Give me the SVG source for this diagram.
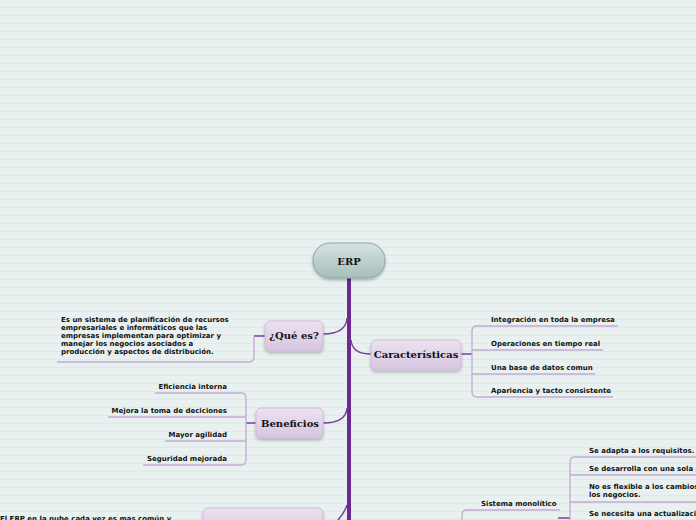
<svg xmlns="http://www.w3.org/2000/svg" width="696" height="520" viewBox="0 0 696 520">
<defs>
<pattern id="bg" width="8" height="8" patternUnits="userSpaceOnUse"><rect width="8" height="8" fill="#e9f1f0"/><line x1="0" y1="7.5" x2="8" y2="7.5" stroke="#e0e9e8" stroke-width="1"/></pattern>
<linearGradient id="g1" x1="0" y1="0" x2="0" y2="1"><stop offset="0" stop-color="#d4e3e1"/><stop offset="1" stop-color="#a8bebb"/></linearGradient>
<linearGradient id="g2" x1="0" y1="0" x2="0" y2="1"><stop offset="0" stop-color="#ece2f1"/><stop offset="1" stop-color="#d6c5e0"/></linearGradient>
<filter id="sh" x="-20%" y="-20%" width="140%" height="160%"><feDropShadow dx="0" dy="2" stdDeviation="1.5" flood-color="#000" flood-opacity="0.25"/></filter>
</defs>
<style>
.node{fill:url(#g2);stroke:#cdbbd9;stroke-width:1;filter:url(#sh)}
.t{font-family:"DejaVu Serif",serif;font-weight:bold;font-size:10px;fill:#111;text-anchor:middle}
.s{font-family:"DejaVu Sans",sans-serif;font-weight:bold;font-size:7px;fill:#111}
.r{text-anchor:end}
.leaf{fill:none;stroke:#c3a9d6;stroke-width:1.3}
.main{fill:none;stroke:#6a2a90;stroke-width:4}
.br{fill:none;stroke:#7b3ea0;stroke-width:1.5}
</style>
<rect width="696" height="520" fill="url(#bg)"/>
<g id="connectors">
<path class="main" d="M349 278 V520"/>
<path class="br" d="M347 318 Q346 334 323 334"/>
<path class="br" d="M351 340 Q352 354 371 354"/>
<path class="br" d="M347 408 Q346 423 323 423"/>
<path class="br" d="M347 505 Q345 512 338 520"/>
<path class="br" d="M461 354 H472"/>
<path class="leaf" d="M487 326 H618 M487 350 H603 M487 374 H595 M487 397 H613"/>
<path class="leaf" d="M487 326 H477 Q472 326 472 331 V392 Q472 397 477 397 H487 M472 350 H487 M472 374 H487"/>
<path class="br" d="M256 423 H246"/>
<path class="leaf" d="M155 393 H241 Q246 393 246 398 V460 Q246 465 241 465 H143 M108 417 H246 M165 441 H246"/>
<path class="br" d="M265 336 H254"/>
<path class="leaf" d="M57 362 H249 Q254 362 254 357 V336"/>
<path class="leaf" d="M476 510 H467 Q462 510 462 515 V520 M476 510 H560"/>
<path class="br" d="M558 518 H570"/>
<path class="leaf" d="M696 457 H575 Q570 457 570 462 V520 M570 475 H696 M570 502 H696"/>
</g>
<g id="erp"><rect x="313" y="243" width="72" height="35" rx="17" fill="url(#g1)" stroke="#86a8a5" filter="url(#sh)"/><text class="t" x="349" y="265" font-size="12">ERP</text></g>
<g id="que"><rect class="node" x="265" y="321" width="58" height="30" rx="5"/><text class="t" x="294" y="339">¿Qué es?</text></g>
<g id="caract"><rect class="node" x="371" y="340" width="90" height="30" rx="5"/><text class="t" x="416" y="358">Características</text></g>
<g id="benef"><rect class="node" x="256" y="408" width="67" height="30" rx="5"/><text class="t" x="290" y="427">Beneficios</text></g>
<g id="bottom"><rect class="node" x="203" y="508" width="120" height="30" rx="5"/></g>
<g id="que-text"><text class="s" x="61" y="322">Es un sistema de planificación de recursos</text><text class="s" x="61" y="330">empresariales e informáticos que las</text><text class="s" x="61" y="338">empresas implementan para optimizar y</text><text class="s" x="61" y="346">manejar los negocios asociados a</text><text class="s" x="61" y="354">producción y aspectos de distribución.</text></g>
<g id="car-leaves"><text class="s" x="491" y="322">Integración en toda la empresa</text><text class="s" x="491" y="346">Operaciones en tiempo real</text><text class="s" x="491" y="370">Una base de datos comun</text><text class="s" x="491" y="393">Apariencia y tacto consistente</text></g>
<g id="ben-leaves"><text class="s r" x="227" y="389">Eficiencia interna</text><text class="s r" x="227" y="413">Mejora la toma de deciciones</text><text class="s r" x="227" y="437">Mayor agilidad</text><text class="s r" x="227" y="461">Seguridad mejorada</text></g>
<g id="mono"><text class="s" x="481" y="506">Sistema monolítico</text><text class="s" x="589" y="453">Se adapta a los requisitos.</text><text class="s" x="589" y="471">Se desarrolla con una sola p</text><text class="s" x="589" y="489">No es flexible a los cambios de</text><text class="s" x="589" y="497">los negocios.</text><text class="s" x="589" y="516">Se necesita una actualización</text></g>
<g id="nube"><text class="s" x="0" y="521">El ERP en la nube cada vez es mas común y</text></g>
</svg>
